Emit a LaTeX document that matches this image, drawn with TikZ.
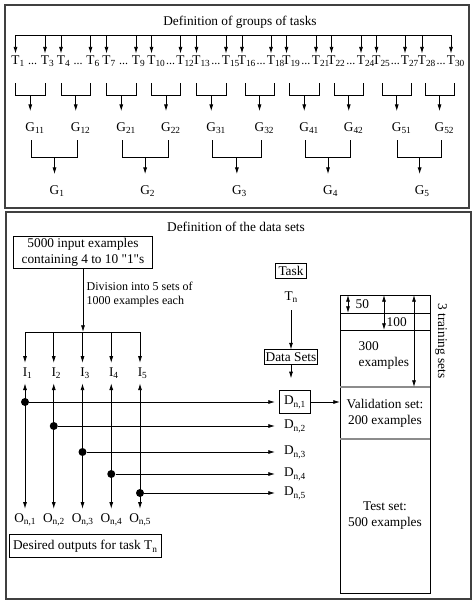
\documentclass[tikz,border=0pt]{standalone}
\usepackage{fontspec}
\setmainfont{Liberation Serif}
\usetikzlibrary{calc, shapes, arrows.meta}
\usetikzlibrary{positioning}

\newcommand{\lowsub}[1]{\raisebox{-2.2pt}{\fontsize{7}{8}\selectfont #1}}

\tikzset{
  panel/.style={draw=black!75, line width=0.8pt},
  tsk/.style={inner xsep=1pt, inner ysep=1pt, anchor=base},
  grp/.style={inner xsep=1pt, inner ysep=8pt, anchor=base},
  boxed/.style={draw, inner sep=2pt},
  joint/.style={circle, fill, inner sep=0pt, minimum size=6pt},
  column/.style={draw, inner sep=0pt, outer sep=0pt, minimum width=67.5pt, align=center},
  splitline/.style={double=black!45, double distance=1.2pt, line width=0.5pt},
}

\begin{document}
\begin{tikzpicture}[x=0.75pt, y=-0.75pt, line width=0.6pt, >={Latex[length=5pt,width=3pt]}]
    \useasboundingbox (0,0) rectangle (474,603);

    % groups of tasks
    \draw[panel] (5,5) rectangle (469,208);
    \node (title1) at (240,22) {Definition of groups of tasks};
    \coordinate (topbar) at (0,35);

    \foreach \k/\xf/\xl/\bo in {0/15.5/45/0, 1/61/90.5/0, 2/106.5/136/0, 3/151.5/180.5/0,
        4/196.5/226/0, 5/242/271/3, 6/286.5/316/3, 7/331.5/361/2.5, 8/376.5/405/6, 9/422/451/3} {
        \pgfmathtruncatemacro{\a}{3*\k+1}
        \pgfmathtruncatemacro{\b}{3*\k+3}
        \pgfmathtruncatemacro{\gi}{floor(\k/2)+1}
        \pgfmathtruncatemacro{\gj}{mod(\k,2)+1}
        \pgfmathsetmacro{\shift}{\k<3 ? 2.3 : 4.6}
        \node[tsk] (t\a) at (\xf, 64) {T\rlap{\lowsub{\a}}};
        \node[tsk] (t\b) at (\xl, 64) {T\rlap{\lowsub{\b}}};
        \node[tsk, font=\small] at ($(t\a.base)!0.5!(t\b.base)+(\shift,0)$) {...};
        \draw[->] (t\a |- topbar) -- (t\a);
        \draw[->] (t\b |- topbar) -- (t\b);
        \draw ($(t\a.base)+(\bo,19)$) -- ++(0,12) -| ($(t\b.base)+(\bo,19)$);
        \node[grp] (g\gi\gj) at ($(t\a.base)!0.5!(t\b.base)+(\bo,67)$) {G\rlap{\lowsub{\gi\gj}}};
        \draw[->] ($(t\a.base)!0.5!(t\b.base)+(\bo,31)$) -- (g\gi\gj);
    }
    \draw (t1 |- topbar) -- (t30 |- topbar);

    \foreach \i in {1,...,5} {
        \draw ($(g\i1.base)+(1,9)$) -- ++(0,17) -| ($(g\i2.base)+(2,9)$);
        \node[grp] (g\i) at ($(g\i1.base)!0.5!(g\i2.base)+(1.5,63)$) {G\rlap{\lowsub{\i}}};
        \draw[->] ($(g\i1.base)!0.5!(g\i2.base)+(1.5,26)$) -- (g\i);
    }

    % data sets
    \draw[panel] (6,212) rectangle (471,599);
    \node (title2) at (236,227) {Definition of the data sets};
    \node[draw, align=center, inner xsep=6pt, inner ysep=1.5pt] (input) at (83,252) {5000 input examples\\containing 4 to 10 \textquotedbl 1\textquotedbl s};
    \node[anchor=north west, align=left, font=\small, inner sep=1pt] (division) at (85,280) {Division into 5 sets of\\1000 examples each};
    \coordinate (split) at (0,332);

    \foreach \i in {1,...,5} {
        \node[tsk, inner ysep=3pt] (i\i) at (25+28.75*\i-28.75, 376) {I\rlap{\lowsub{\i}}};
        \node[tsk, inner ysep=3pt] (o\i) at (25+28.75*\i-28.75, 522) {O\lowsub{n,\i}};
        \draw[->] (i\i |- split) -- (i\i);
        \draw[<->] (i\i) -- (o\i);
    }
    \draw[->] (input) -- (input |- split);
    \draw (i1 |- split) -- (i5 |- split);

    \node[draw, inner xsep=3pt, inner ysep=4pt] (desired) at (85,546) {Desired outputs for task T\lowsub{n}};

    \foreach \i/\y in {1/402, 2/426, 3/452, 4/474, 5/493} {
        \node[joint] (dot\i) at (i\i |- 0,\y) {};
        \node[anchor=west, inner sep=3.5pt] (d\i) at (279,\y) {D\lowsub{n,\i}};
        \draw[->, shorten >=3pt] (dot\i) -- (d\i);
    }
    \draw (d1.south west) rectangle (d1.north east);

    \node[boxed] (task) at (291,271) {Task};
    \node[tsk] (tn) at (291,300) {T\lowsub{n}};
    \node[boxed, inner xsep=1pt] (datasets) at (291,357) {Data Sets};
    \draw[->, shorten <=4pt] (tn) -- (datasets);
    \draw[->, shorten >=9pt] (datasets) -- (datasets |- d1.north);

    % column of sets
    \node[column, anchor=north west, minimum height=69pt] (train) at (340,295) {};
    \node[column, below=0pt of train, minimum height=39pt] (valid) {Validation set:\\200 examples};
    \node[column, below=0pt of valid, minimum height=115.5pt] (test) {Test set:\\500 examples};
    \draw[->] (d1) -- (d1 -| valid.west);
    \draw[splitline] (valid.north west) -- (valid.north east);
    \draw[splitline] (test.north west) -- (test.north east);
    \draw ($(train.north west)+(0,18)$) -- ($(train.north east)+(0,18)$);
    \draw ($(train.north west)+(0,35)$) -- ($(train.north east)+(0,35)$);

    \draw[<->] ($(train.north west)+(8,0)$) -- ++(0,18);
    \draw[<->] ($(train.north west)+(44,0)$) -- ++(0,35);
    \draw[<->] ($(train.north west)+(74,0)$) -- (valid.north west -| 414,0);
    \node[anchor=west, inner sep=1pt] (n50) at (354,304) {50};
    \node[anchor=west, inner sep=1pt] (n100) at (385,322) {100};
    \node[anchor=west, align=left, inner sep=1pt] (n300) at (357,355) {300\\examples};
    \node[rotate=-90] (trainlbl) at (441,341) {3 training sets};
\end{tikzpicture}
\end{document}
